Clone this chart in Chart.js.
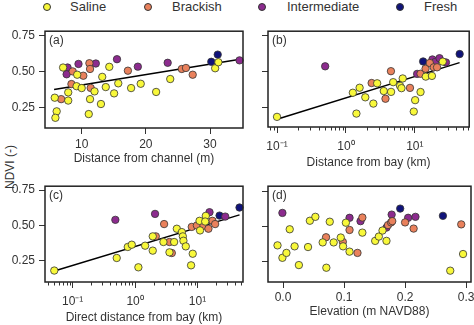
<!DOCTYPE html>
<html>
<head>
<meta charset="utf-8">
<script src="https://cdn.jsdelivr.net/npm/chart.js@4.4.1/dist/chart.umd.min.js"></script>
<style>
  body { margin:0; background:#fff; overflow:hidden; width:474px; height:325px; position:relative;
         font-family:'Liberation Sans', Arial, sans-serif; color:#333; }
  .pan { position:absolute; }
  .leg { position:absolute; top:-1px; font-size:13px; line-height:15px; white-space:nowrap; }
  .dot { position:absolute; width:6px; height:6px; border-radius:50%; border:1px solid #333; }
  #ylab { position:absolute; left:10px; top:167px; font-size:12px; white-space:nowrap;
          transform:translate(-50%,-50%) rotate(-90deg); }
</style>
</head>
<body>
<div class="dot" style="left:43px;top:3px;background:#F8F83A"></div><div class="leg" style="left:70px">Saline</div>
<div class="dot" style="left:144px;top:3px;background:#E9815C"></div><div class="leg" style="left:172px">Brackish</div>
<div class="dot" style="left:258px;top:3px;background:#8C2B8E"></div><div class="leg" style="left:287px">Intermediate</div>
<div class="dot" style="left:396px;top:3px;background:#10137A"></div><div class="leg" style="left:424px">Fresh</div>
<div id="ylab">NDVI (-)</div>

<div class="pan" style="left:0px;top:20px"><canvas id="pa" width="250" height="150"></canvas></div>
<div class="pan" style="left:250px;top:20px"><canvas id="pb" width="224" height="150"></canvas></div>
<div class="pan" style="left:0px;top:175px"><canvas id="pc" width="250" height="150"></canvas></div>
<div class="pan" style="left:250px;top:175px"><canvas id="pd" width="230" height="150"></canvas></div>

<script>
// groups
const groups = ['Saline', 'Brackish', 'Intermediate', 'Fresh'];
const colors = ['#F8F83A', '#E9815C', '#8C2B8E', '#10137A'];
const yTicks = [0.25, 0.5, 0.75];

// (a) distance from channel (m)
const salineA = [[5.8,0.32],[6.1,0.225],[5.9,0.18],[7.1,0.53],[7.9,0.357],[7.9,0.30],[9.3,0.48],[9.2,0.40],
  [10.0,0.387],[11.3,0.31],[11.1,0.206],[12.0,0.364],[13.0,0.276],[13.2,0.465],[13.75,0.394],[14.3,0.535],
  [15.05,0.35],[15.7,0.42],[17.7,0.387],[19.2,0.417],[21.6,0.36],[23.8,0.45],[30.8,0.525],[31.3,0.567]];
const brackishA = [[6.8,0.31],[8.4,0.415],[8.6,0.503],[10.25,0.473],[11.2,0.56],[11.3,0.52],[11.4,0.388],
  [17.2,0.508],[25.6,0.52],[26.25,0.527],[27.3,0.48]];
const intermediateA = [[7.8,0.53],[7.65,0.483],[9.5,0.555],[12.2,0.558],[15.5,0.588],[18.75,0.536],[23.4,0.563],[34.6,0.58]];
const freshA = [[30.2,0.57],[31.2,0.62]];
const fitA = [[5.7,0.377],[34.7,0.588]];

// (b) distance from bay (km)
const salineB = [[0.1,0.183],[1.26,0.352],[1.58,0.387],[1.42,0.206],[1.91,0.32],[2.84,0.418],[2.5,0.276],
  [3.54,0.364],[4.52,0.358],[4.85,0.426],[6.1,0.40],[6.4,0.384],[6.67,0.452],[12.1,0.357],[10.1,0.30],
  [9.65,0.22],[14.4,0.465],[17.7,0.47],[25.4,0.57]];
const brackishB = [[2.36,0.42],[3.75,0.31],[4.5,0.503],[8.5,0.386],[12.1,0.485],[14.3,0.52],[16.5,0.56],[18.8,0.53],[21,0.53]];
const intermediateB = [[0.5,0.537],[10.8,0.484],[18,0.585],[19.8,0.568],[22.8,0.594],[28.3,0.564]];
const freshB = [[13.2,0.571],[44.7,0.623]];
const fitB = [[0.1,0.166],[44.6,0.563]];

// (c) direct distance from bay (km)
const salineC = [[0.0507,0.181],[0.508,0.27],[0.764,0.348],[0.885,0.364],[1.13,0.204],[1.45,0.357],[1.92,0.322],
  [1.92,0.423],[2.85,0.383],[3.56,0.31],[4.23,0.383],[4.67,0.477],[5.62,0.453],[5.83,0.423],[5.96,0.392],
  [6.5,0.352],[8.4,0.30],[7.9,0.218],[10.8,0.533],[11,0.465],[13.6,0.568],[13.3,0.528]];
const brackishC = [[2.15,0.423],[2.92,0.51],[3.56,0.383],[3.88,0.305],[8.1,0.49],[9.8,0.50],[12.5,0.498],[15,0.477],[17.4,0.533],[19.2,0.51]];
const intermediateC = [[0.483,0.54],[2.09,0.582],[15.6,0.594],[27.9,0.563]];
const freshC = [[22.6,0.57],[47.2,0.627]];
const fitC = [[0.0507,0.178],[47.2,0.575]];

// (d) elevation (m NAVD88)
const salineD = [[-0.009,0.362],[-0.001,0.273],[0.0056,0.308],[0.011,0.477],[0.019,0.355],[0.026,0.221],[0.041,0.35],
  [0.044,0.538],[0.053,0.566],[0.065,0.383],[0.071,0.202],[0.0766,0.531],[0.083,0.383],[0.0946,0.418],[0.0984,0.355],
  [0.103,0.524],[0.109,0.317],[0.130,0.453],[0.151,0.394],[0.157,0.425],[0.163,0.468],[0.1695,0.394],[0.274,0.181],[0.295,0.30]];
const brackishD = [[0.0705,0.42],[0.098,0.387],[0.109,0.472],[0.122,0.308],[0.130,0.561],[0.172,0.507],[0.177,0.526],
  [0.179,0.535],[0.2,0.526],[0.214,0.482],[0.292,0.512]];
const intermediateD = [[-0.001,0.594],[0.109,0.559],[0.127,0.535],[0.1695,0.489],[0.178,0.582],[0.205,0.559],[0.217,0.566]];
const freshD = [[0.192,0.625],[0.262,0.573]];

Chart.defaults.font.family = "'Liberation Sans', Arial, sans-serif";
Chart.defaults.color = '#333';

function pts(arr) {
  return arr.map(p => ({x: p[0], y: p[1]}));
}

const supers = {'-1': '10\u207B\u00B9', '0': '10\u2070', '1': '10\u00B9'};

// box, panel letter and minor log ticks
const panelPlugin = {
  id: 'panelStuff',
  afterDraw(chart) {
    const o = chart.options.plugins.panelStuff;
    const a = chart.chartArea;
    const ctx = chart.ctx;
    ctx.save();
    ctx.strokeStyle = '#222';
    ctx.lineWidth = 1.5;
    ctx.strokeRect(a.left, a.top, a.right - a.left, a.bottom - a.top);
    ctx.fillStyle = '#333';
    ctx.font = "12px 'Liberation Sans', Arial, sans-serif";
    ctx.textBaseline = 'top';
    ctx.fillText(o.letter, a.left + 4, a.top + 3);
    if (o.log) {
      const sx = chart.scales.x;
      ctx.strokeStyle = '#333';
      ctx.lineWidth = 1;
      for (let e = -2; e <= 2; e++) {
        for (let k = 2; k <= 9; k++) {
          const v = k * Math.pow(10, e);
          if (v < sx.min || v > sx.max) continue;
          const px = Math.round(sx.getPixelForValue(v)) + 0.5;
          ctx.beginPath();
          ctx.moveTo(px, a.bottom);
          ctx.lineTo(px, a.bottom + 3.5);
          ctx.stroke();
        }
      }
    }
    ctx.restore();
  }
};

function makePanel(id, cfg) {
  const sets = [cfg.saline, cfg.brackish, cfg.intermediate, cfg.fresh].map((d, i) => ({
    type: 'scatter',
    label: groups[i],
    data: pts(d),
    backgroundColor: colors[i],
    borderColor: '#333',
    borderWidth: 0.8,
    pointRadius: 3.7,
    clip: false
  }));
  if (cfg.fit) {
    sets.push({
      type: 'line',
      label: 'fit',
      data: pts(cfg.fit),
      borderColor: '#000',
      borderWidth: 1.5,
      pointRadius: 0,
      fill: false,
      clip: false
    });
  }
  const xs = {
    type: cfg.log ? 'logarithmic' : 'linear',
    min: cfg.xMin,
    max: cfg.xMax,
    afterBuildTicks: s => { s.ticks = cfg.xTicks.map(v => ({value: v})); },
    afterFit: s => { s.height = cfg.xH; },
    ticks: {
      padding: cfg.xPad,
      font: {size: 12},
      color: '#333',
      maxRotation: 0,
      autoSkip: false,
      callback: v => cfg.log ? supers[String(Math.round(Math.log10(v)))] : cfg.xFmt(v)
    },
    grid: {drawOnChartArea: false, drawTicks: true, tickLength: 6, color: '#333'},
    border: {display: false},
    title: {display: true, text: cfg.xTitle, font: {size: 12}, color: '#333', padding: {top: 0, bottom: cfg.titlePad}}
  };
  const ys = {
    type: 'linear',
    min: cfg.yMin,
    max: cfg.yMax,
    afterBuildTicks: s => { s.ticks = yTicks.map(v => ({value: v})); },
    afterFit: s => { s.width = cfg.yW; },
    ticks: {
      padding: 4,
      font: {size: 12},
      color: '#333',
      callback: v => cfg.yLabels ? v.toFixed(2) : ''
    },
    grid: {drawOnChartArea: false, drawTicks: true, tickLength: 6, color: '#333'},
    border: {display: false}
  };
  return new Chart(document.getElementById(id), {
    type: 'scatter',
    data: {datasets: sets},
    options: {
      responsive: false,
      animation: false,
      layout: {padding: {top: cfg.pt, right: cfg.pr, left: 0, bottom: 0}},
      scales: {x: xs, y: ys},
      plugins: {
        legend: {display: false},
        tooltip: {enabled: false},
        panelStuff: {letter: cfg.letter, log: cfg.log}
      }
    },
    plugins: [panelPlugin]
  });
}

makePanel('pa', {
  saline: salineA, brackish: brackishA, intermediate: intermediateA, fresh: freshA, fit: fitA,
  log: false, xMin: 4.28, xMax: 35.14, xTicks: [10, 20, 30], xFmt: v => String(v),
  yMin: 0.109, yMax: 0.783, yLabels: true, yW: 45, xH: 42, pt: 11, pr: 7, xPad: 3, titlePad: 3.8,
  xTitle: 'Distance from channel (m)', letter: '(a)'
});
makePanel('pb', {
  saline: salineB, brackish: brackishB, intermediate: intermediateB, fresh: freshB, fit: fitB,
  log: true, xMin: 0.074, xMax: 61.5, xTicks: [0.1, 1, 10],
  yMin: 0.112, yMax: 0.783, yLabels: false, yW: 18, xH: 43, pt: 11, pr: 2, xPad: 6.5, titlePad: 0,
  xTitle: 'Distance from bay (km)', letter: '(b)'
});
makePanel('pc', {
  saline: salineC, brackish: brackishC, intermediate: intermediateC, fresh: freshC, fit: fitC,
  log: true, xMin: 0.036, xMax: 53.7, xTicks: [0.1, 1, 10],
  yMin: 0.10, yMax: 0.778, yLabels: true, yW: 45, xH: 43, pt: 11, pr: 7, xPad: 6.5, titlePad: 0,
  xTitle: 'Direct distance from bay (km)', letter: '(c)'
});
makePanel('pd', {
  saline: salineD, brackish: brackishD, intermediate: intermediateD, fresh: freshD, fit: null,
  log: false, xMin: -0.0246, xMax: 0.308, xTicks: [0, 0.1, 0.2, 0.3], xFmt: v => v.toFixed(1),
  yMin: 0.10, yMax: 0.785, yLabels: false, yW: 18, xH: 43, pt: 10, pr: 9, xPad: 2.7, titlePad: 6,
  xTitle: 'Elevation (m NAVD88)', letter: '(d)'
});
</script>
</body>
</html>
